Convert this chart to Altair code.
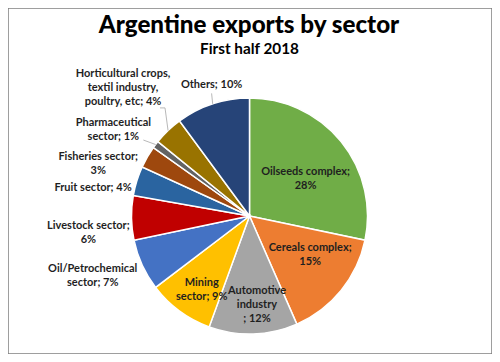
import math
import altair as alt
import pandas as pd

# ---- data ----
sectors = [
    "Oilseeds complex", "Cereals complex", "Automotive industry", "Mining sector",
    "Oil/Petrochemical sector", "Livestock sector", "Fruit sector", "Fisheries sector",
    "Pharmaceutical sector", "Horticultural crops, textil industry, poultry, etc", "Others",
]
shares = [28, 15, 12, 9, 7, 6, 4, 3, 1, 4, 10]
label_text = [
    "Oilseeds complex;\n28%",
    "Cereals complex;\n15%",
    "Automotive\nindustry\n; 12%",
    "Mining\nsector; 9%",
    "Oil/Petrochemical\nsector; 7%",
    "Livestock sector;\n6%",
    "Fruit sector; 4%",
    "Fisheries sector;\n3%",
    "Pharmaceutical\nsector; 1%",
    "Horticultural  crops,\ntextil industry,\npoultry,  etc; 4%",
    "Others;  10%",
]
colors = ["#70AD47", "#ED7D31", "#A5A5A5", "#FFC000", "#4472C4", "#C00000",
          "#2A64A0", "#9E480E", "#636363", "#997300", "#264478"]

# ---- layout ----
W, H = 484, 346
CX, CY, R = 241.5, 208, 118
LH = 14
# (label radius, angular nudge in degrees) per slice
label_layout = [(67, 6), (72, -6.5), (89, -3), (88, -3.5), (168, 3.5), (162, -5),
                (159, -7), (160, -11), (161, -5), (180, -1), (136, 2)]
leader_for = {"Others", "Pharmaceutical sector",
              "Horticultural crops, textil industry, poultry, etc"}

total = sum(shares)
rows, lead = [], []
cum = 0
for i, (s, v, t) in enumerate(zip(sectors, shares, label_text)):
    mid = (cum + v / 2) / total * 2 * math.pi
    cum += v
    r, nudge = label_layout[i]
    a = mid + math.radians(nudge)
    lx, ly = CX + r * math.sin(a), CY - r * math.cos(a)
    nlines = t.count("\n") + 1
    rows.append(dict(idx=i, sector=s, share=v, label=t, lx=lx,
                     ty=ly - (nlines - 1) * LH / 2))
    if s in leader_for:
        ex, ey = CX + R * math.sin(mid), CY - R * math.cos(mid)
        if s == "Others":
            pts = [(lx, ly + 8), (ex, ey)]
        elif s == "Pharmaceutical sector":
            pts = [(lx + 30, ly + 10), (ex, ey)]
        else:
            pts = [(lx + 37, ly + 20), (lx + 42, ly + 20), (ex, ey)]
        for (x1, y1), (x2, y2) in zip(pts[:-1], pts[1:]):
            lead.append(dict(x1=x1, y1=y1, x2=x2, y2=y2))

df = pd.DataFrame(rows)
lead_df = pd.DataFrame(lead)
title_df = pd.DataFrame([{"t": "Argentine exports by sector"}])
sub_df = pd.DataFrame([{"t": "First half 2018"}])

pie = alt.Chart(df).mark_arc(outerRadius=R, stroke="white", strokeWidth=1.5).encode(
    theta=alt.Theta("share:Q", stack=True),
    order=alt.Order("idx:Q"),
    color=alt.Color("sector:N", scale=alt.Scale(domain=sectors, range=colors), legend=None),
    x=alt.value(CX),
    y=alt.value(CY),
)

labels = alt.Chart(df).mark_text(
    font="Lato", fontSize=11, fontWeight="bold", color="#1f1f1f",
    lineBreak="\n", lineHeight=LH, align="center", baseline="middle",
).encode(
    x=alt.X("lx:Q", scale=None),
    y=alt.Y("ty:Q", scale=None),
    text="label:N",
)

leaders = alt.Chart(lead_df).mark_rule(color="#A6A6A6", strokeWidth=0.8).encode(
    x=alt.X("x1:Q", scale=None), y=alt.Y("y1:Q", scale=None),
    x2="x2:Q", y2="y2:Q",
)

title = alt.Chart(title_df).mark_text(
    font="Lato", fontSize=24.2, fontWeight=900, color="black",
    align="center", baseline="alphabetic",
).encode(x=alt.value(241), y=alt.value(25), text="t:N")

subtitle = alt.Chart(sub_df).mark_text(
    font="Lato", fontSize=15.3, fontWeight="bold", color="black",
    align="center", baseline="alphabetic",
).encode(x=alt.value(241.5), y=alt.value(46), text="t:N")

chart = alt.layer(pie, leaders, labels, title, subtitle).properties(
    width=W, height=H, autosize=alt.AutoSizeParams(type="none"), padding=0,
).configure_view(stroke="#7f7f7f", strokeWidth=1.5)

chart.save("out.html", embed_options={"renderer": "svg", "actions": False})
